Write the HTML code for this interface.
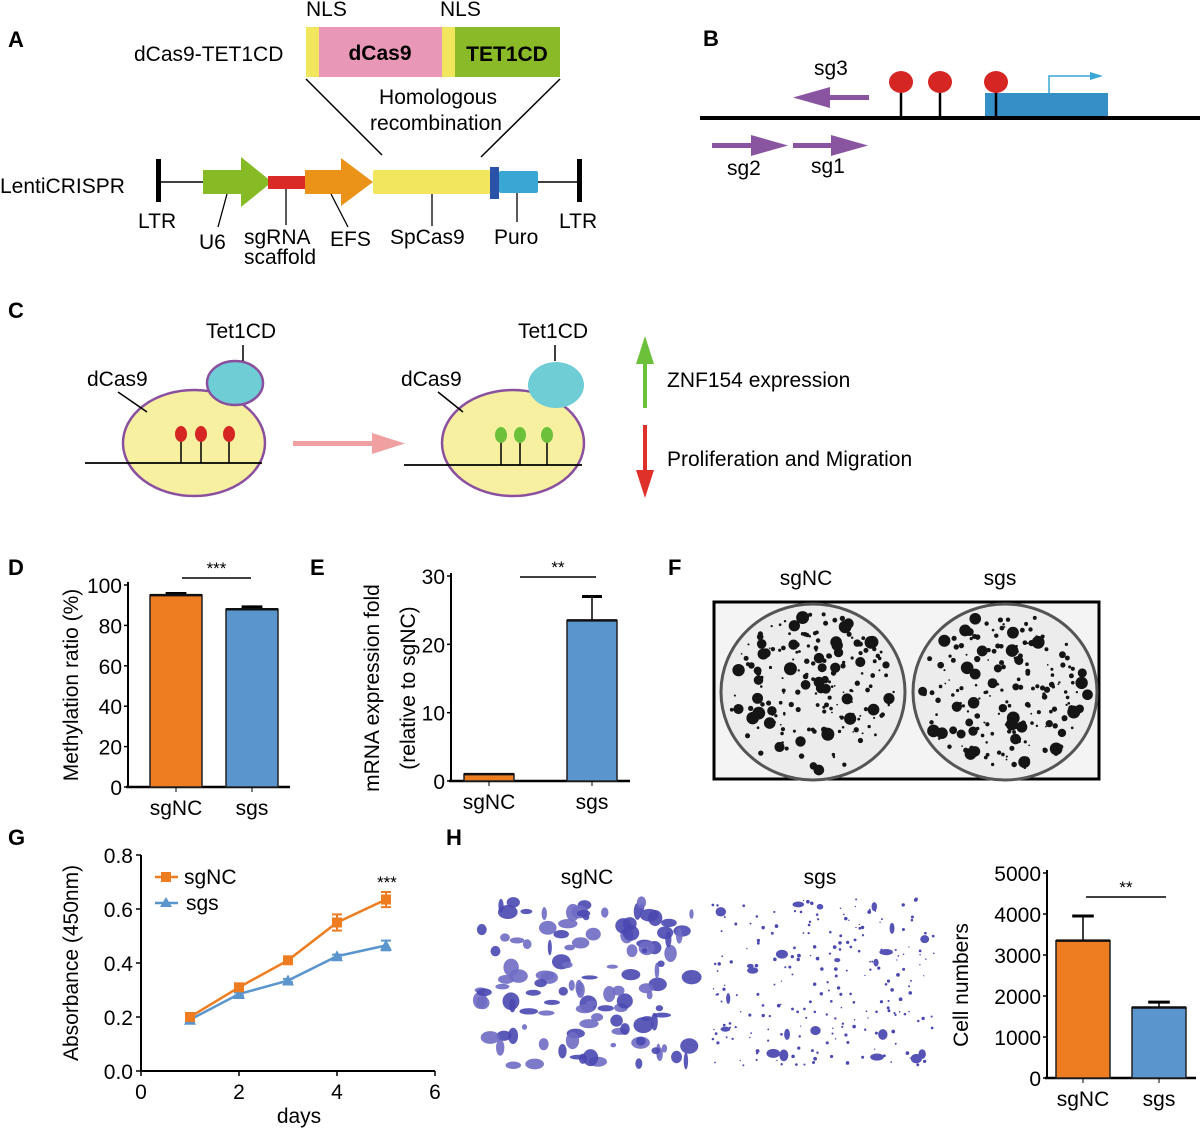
<!DOCTYPE html>
<html><head><meta charset="utf-8"><style>
html,body{margin:0;padding:0;background:#fff;}
svg{display:block;font-family:"Liberation Sans",Arial,sans-serif;}
</style></head><body>
<svg id="fig" width="1200" height="1128" viewBox="0 0 1200 1128" xmlns="http://www.w3.org/2000/svg">
<!-- Panel A -->
<g>
<text x="8" y="47" font-size="22" font-weight="bold">A</text>
<text x="134" y="61" font-size="21">dCas9-TET1CD</text>
<text x="306" y="16" font-size="21">NLS</text>
<text x="440" y="16" font-size="21">NLS</text>
<rect x="306" y="27" width="13" height="50" fill="#f2e65e"/>
<rect x="319" y="27" width="123" height="50" fill="#e898b6"/>
<rect x="442" y="27" width="13" height="50" fill="#f2e65e"/>
<rect x="455" y="27" width="105" height="50" fill="#8aba28"/>
<text x="380" y="60" font-size="21" font-weight="bold" text-anchor="middle">dCas9</text>
<text x="507" y="61" font-size="21" font-weight="bold" text-anchor="middle">TET1CD</text>
<line x1="306" y1="79" x2="382" y2="155" stroke="#000" stroke-width="1.5"/>
<line x1="560" y1="79" x2="481" y2="157" stroke="#000" stroke-width="1.5"/>
<text x="438" y="104" font-size="21" text-anchor="middle">Homologous</text>
<text x="436" y="130" font-size="21" text-anchor="middle">recombination</text>
<text x="0" y="193" font-size="21">LentiCRISPR</text>
<rect x="156" y="159" width="5" height="43" fill="#000"/>
<line x1="161" y1="182" x2="204" y2="182" stroke="#000" stroke-width="1.5"/>
<line x1="537" y1="182" x2="578" y2="182" stroke="#000" stroke-width="1.5"/>
<rect x="577" y="159" width="5" height="43" fill="#000"/>
<polygon points="203,170 241,170 241,157 272,182 241,207 241,194 203,194" fill="#86bb26"/>
<rect x="268" y="176" width="40" height="13" fill="#d92a26"/>
<polygon points="305,170 341,170 341,158 373,182 341,206 341,194 305,194" fill="#ea9318"/>
<rect x="373" y="170" width="118" height="24" fill="#f2e65e" rx="2"/>
<rect x="490" y="167" width="9" height="32" fill="#2a52a8"/>
<rect x="499" y="171" width="39" height="22" fill="#3aa6d4" rx="2"/>
<g stroke="#000" stroke-width="1.3">
<line x1="227" y1="194" x2="218" y2="227"/><line x1="286" y1="189" x2="286" y2="225"/>
<line x1="331" y1="194" x2="348" y2="227"/><line x1="432" y1="194" x2="432" y2="226"/><line x1="517" y1="193" x2="517" y2="222"/>
</g>
<g font-size="21">
<text x="138" y="228">LTR</text><text x="199" y="249">U6</text><text x="244" y="244">sgRNA</text><text x="244" y="264">scaffold</text>
<text x="330" y="246">EFS</text><text x="390" y="244">SpCas9</text><text x="494" y="244">Puro</text><text x="559" y="228">LTR</text>
</g>
</g>
<!-- Panel B -->
<g>
<text x="703" y="46" font-size="22" font-weight="bold">B</text>
<rect x="985" y="93" width="123" height="25" fill="#3690c8"/>
<rect x="700" y="116" width="500" height="4" fill="#000"/>
<g stroke="#000" stroke-width="2.5"><line x1="901" y1="82" x2="901" y2="117"/><line x1="940" y1="82" x2="940" y2="117"/><line x1="996" y1="82" x2="996" y2="117"/></g>
<g fill="#d62624"><ellipse cx="901" cy="82" rx="12" ry="11"/><ellipse cx="940" cy="82" rx="12" ry="11"/><ellipse cx="996" cy="82" rx="12" ry="11"/></g>
<polyline points="1049,93 1049,76 1090,76" fill="none" stroke="#3aa6d4" stroke-width="1.5"/>
<polygon points="1090,72 1103,76 1090,80" fill="#3aa6d4"/>
<g fill="#8a55a0">
<rect x="828" y="95" width="41" height="5"/><polygon points="793,97.5 830,87 830,108"/>
<rect x="712" y="143" width="40" height="5"/><polygon points="788,145.5 751,135 751,156"/>
<rect x="793" y="143" width="40" height="5"/><polygon points="868,145.5 831,135 831,156"/>
</g>
<g font-size="21"><text x="814" y="75">sg3</text><text x="727" y="175">sg2</text><text x="811" y="173">sg1</text></g>
</g>
<!-- Panel C -->
<g>
<text x="8" y="318" font-size="22" font-weight="bold">C</text>
<ellipse cx="194" cy="443" rx="71" ry="53" fill="#f6f0a0" stroke="#8a4f9e" stroke-width="2.5"/>
<ellipse cx="235" cy="383" rx="28" ry="22" fill="#6fcdd6" stroke="#8a4f9e" stroke-width="2.5"/>
<line x1="85" y1="463" x2="262" y2="463" stroke="#000" stroke-width="1.8"/>
<g stroke="#000" stroke-width="1.5"><line x1="181" y1="434" x2="181" y2="463"/><line x1="201" y1="434" x2="201" y2="463"/><line x1="229" y1="434" x2="229" y2="463"/><line x1="243" y1="345" x2="243" y2="361"/><line x1="118" y1="392" x2="147" y2="412"/></g>
<g fill="#d62624"><ellipse cx="181" cy="434" rx="6" ry="8"/><ellipse cx="201" cy="434" rx="6" ry="8"/><ellipse cx="229" cy="434" rx="6" ry="8"/></g>
<text x="206" y="338" font-size="21">Tet1CD</text><text x="87" y="386" font-size="21">dCas9</text>
<rect x="293" y="441" width="80" height="5" fill="#f0a0a0"/><polygon points="405,443.5 372,433 372,454" fill="#f0a0a0"/>
<ellipse cx="513" cy="443" rx="71" ry="53" fill="#f6f0a0" stroke="#8a4f9e" stroke-width="2.5"/>
<ellipse cx="556" cy="385" rx="28" ry="23" fill="#6fcdd6"/>
<line x1="404" y1="465" x2="582" y2="465" stroke="#000" stroke-width="1.8"/>
<g stroke="#000" stroke-width="1.5"><line x1="501" y1="435" x2="501" y2="465"/><line x1="520" y1="435" x2="520" y2="465"/><line x1="547" y1="435" x2="547" y2="465"/><line x1="555" y1="345" x2="555" y2="361"/><line x1="438" y1="392" x2="463" y2="412"/></g>
<g fill="#6cc13a"><ellipse cx="501" cy="435" rx="6" ry="8"/><ellipse cx="520" cy="435" rx="6" ry="8"/><ellipse cx="547" cy="435" rx="6" ry="8"/></g>
<text x="518" y="338" font-size="21">Tet1CD</text><text x="401" y="386" font-size="21">dCas9</text>
<rect x="643" y="362" width="4" height="46" fill="#6cc13a"/><polygon points="645,336 636,364 654,364" fill="#6cc13a"/>
<rect x="643" y="425" width="4" height="46" fill="#e0302a"/><polygon points="645,498 636,470 654,470" fill="#e0302a"/>
<text x="667" y="387" font-size="21">ZNF154 expression</text>
<text x="667" y="466" font-size="21">Proliferation and Migration</text>
</g>
<!-- Panel labels for charts -->
<text x="8" y="575" font-size="22" font-weight="bold">D</text>
<text x="310" y="575" font-size="22" font-weight="bold">E</text>
<text x="668" y="575" font-size="22" font-weight="bold">F</text>
<text x="8" y="845" font-size="22" font-weight="bold">G</text>
<text x="446" y="845" font-size="22" font-weight="bold">H</text>
<!-- Panel F -->
<g>
<text x="806" y="585" font-size="21" text-anchor="middle">sgNC</text>
<text x="1000" y="585" font-size="21" text-anchor="middle">sgs</text>
<rect x="714" y="602" width="385" height="177" fill="#f4f4f4" stroke="#000" stroke-width="3"/>
<ellipse cx="813" cy="692" rx="92" ry="88" fill="#ececec" stroke="#555" stroke-width="3"/>
<ellipse cx="1005" cy="692" rx="92" ry="88" fill="#ececec" stroke="#555" stroke-width="3"/>
<g id="colonies"></g>
</g>
<!-- Panel H images -->
<g>
<text x="587" y="884" font-size="21" text-anchor="middle">sgNC</text>
<text x="820" y="884" font-size="21" text-anchor="middle">sgs</text>
<g id="cells"></g>
</g>
<g id="charts"></g>
</svg>
<script>
// ===== Chart data =====
const dCategories = ["sgNC","sgs"];
const dValues = [95, 88];
const dErrors = [0.8, 1.2];
const dTicks = [0,20,40,60,80,100];

const eCategories = ["sgNC","sgs"];
const eValues = [1, 23.5];
const eErrors = [0, 3.5];
const eTicks = [0,10,20,30];

const gDays = [1,2,3,4,5];
const gSgNC = [0.20,0.31,0.41,0.55,0.635];
const gSgNCErr = [0.008,0.01,0.01,0.03,0.028];
const gSgs = [0.19,0.285,0.335,0.425,0.465];
const gSgsErr = [0.006,0.006,0.006,0.006,0.018];
const gXTicks = [0,2,4,6];
const gYTicks = [0.0,0.2,0.4,0.6,0.8];

const hCategories = ["sgNC","sgs"];
const hValues = [3350, 1720];
const hErrors = [600, 130];
const hTicks = [0,1000,2000,3000,4000,5000];

const ORANGE="#ee7d22", BLUE="#5b95cd";
const NS="http://www.w3.org/2000/svg";
const root=document.getElementById('charts');
function mk(tag,attrs,parent){const e=document.createElementNS(NS,tag);for(const k in attrs)e.setAttribute(k,attrs[k]);(parent||root).appendChild(e);return e;}
function txt(s,attrs,parent){const e=mk('text',attrs,parent);e.textContent=s;return e;}

function barChart(o){
  const g=mk('g',{});
  
  
  const y=v=>o.y0-(v-o.min)/(o.max-o.min)*(o.y0-o.y1);
  mk('line',{x1:o.ax,y1:o.y1-3,x2:o.ax,y2:o.y0,stroke:'#000','stroke-width':2},g);
  mk('line',{x1:o.ax-2,y1:o.y0,x2:o.axEnd,y2:o.y0,stroke:'#000','stroke-width':2.5},g);
  o.ticks.forEach(t=>{
    mk('line',{x1:o.ax-4,y1:y(t),x2:o.ax,y2:y(t),stroke:'#000','stroke-width':1.5},g);
    const l=txt(String(t),{x:o.ax-6,y:y(t)+8,'font-size':21,'text-anchor':'end'},g);
    
    
  });
  o.cats.forEach((c,i)=>{
    const cx=o.cx[i], v=o.vals[i], e=o.errs[i];
    if(e>0){
      mk('line',{x1:cx,y1:y(v),x2:cx,y2:y(v+e),stroke:'#000','stroke-width':1.5},g);
      mk('line',{x1:cx-o.bw*0.2,y1:y(v+e),x2:cx+o.bw*0.2,y2:y(v+e),stroke:'#000','stroke-width':3},g);
    }
    const b=mk('rect',{x:cx-o.bw/2,y:y(v),width:o.bw,height:o.y0-y(v),fill:i?BLUE:ORANGE,stroke:'#222','stroke-width':1.5},g);
    
    
    mk('line',{x1:cx-o.bw/2,y1:y(v),x2:cx+o.bw/2,y2:y(v),stroke:'#111','stroke-width':2.5},g);
    mk('line',{x1:cx,y1:o.y0,x2:cx,y2:o.y0+5,stroke:'#000','stroke-width':1},g);
    const l=txt(c,{x:cx,y:o.y0+28,'font-size':21,'text-anchor':'middle'},g);
    
    
  });
  mk('line',{x1:o.sig[0],y1:o.sig[2],x2:o.sig[1],y2:o.sig[2],stroke:'#000','stroke-width':1.5},g);
  txt(o.stars,{x:(o.sig[0]+o.sig[1])/2,y:o.sig[2]-4,'font-size':17,'text-anchor':'middle'},g);
  o.titles.forEach((t,k)=>{
    const tt=txt(t[0],{x:t[1],y:t[2],'font-size':21,'text-anchor':'middle',transform:`rotate(-90 ${t[1]} ${t[2]})`},g);
    
    
  });
}
barChart({name:'methylation-chart',ax:128,axEnd:290,y0:787,y1:585,min:0,max:100,ticks:dTicks,cats:dCategories,vals:dValues,errs:dErrors,cx:[176,252],bw:52,sig:[182,251,578],stars:'***',titles:[["Methylation ratio (%)",78,685]]});
barChart({name:'mrna-chart',ax:451,axEnd:630,y0:781,y1:576,min:0,max:30,ticks:eTicks,cats:eCategories,vals:eValues,errs:eErrors,cx:[489,592],bw:50,sig:[520,596,577],stars:'**',titles:[["mRNA expression fold",379,688],["(relative to sgNC)",415,688]]});
barChart({name:'cell-number-chart',ax:1047,axEnd:1196,y0:1078,y1:873,min:0,max:5000,ticks:hTicks,cats:hCategories,vals:hValues,errs:hErrors,cx:[1083,1159],bw:54,sig:[1086,1166,897],stars:'**',titles:[["Cell numbers",968,985]]});

// ===== Line chart G =====
(function(){
  const g=mk('g',{});
  
  
  const X0=141,X1=435,Y0=1071,Y1=855;
  const x=v=>X0+v/6*(X1-X0), y=v=>Y0-v/0.8*(Y0-Y1);
  mk('line',{x1:X0,y1:Y1,x2:X0,y2:Y0,stroke:'#000','stroke-width':2},g);
  mk('line',{x1:X0,y1:Y0,x2:X1,y2:Y0,stroke:'#000','stroke-width':2},g);
  gYTicks.forEach(t=>{
    mk('line',{x1:X0-5,y1:y(t),x2:X0,y2:y(t),stroke:'#000','stroke-width':1.5},g);
    const l=txt(t.toFixed(1),{x:X0-8,y:y(t)+8,'font-size':21,'text-anchor':'end'},g);
    
    
  });
  gXTicks.forEach(t=>{
    mk('line',{x1:x(t),y1:Y0,x2:x(t),y2:Y0+5,stroke:'#000','stroke-width':1.5},g);
    const l=txt(String(t),{x:x(t),y:Y0+28,'font-size':21,'text-anchor':'middle'},g);
    
    
  });
  const xt=txt('days',{x:299,y:1123,'font-size':21,'text-anchor':'middle'},g);
  
  
  const yt=txt('Absorbance (450nm)',{x:78,y:963,'font-size':21,'text-anchor':'middle',transform:'rotate(-90 78 963)'},g);
  
  
  function series(vals,errs,col,shape,name){
    const s=mk('g',{},g);
    
    
    mk('polyline',{points:gDays.map((d,i)=>x(d)+','+y(vals[i])).join(' '),fill:'none',stroke:col,'stroke-width':2.5},s);
    gDays.forEach((d,i)=>{
      const cx=x(d),cy=y(vals[i]);
      mk('line',{x1:cx,y1:y(vals[i]-errs[i]),x2:cx,y2:y(vals[i]+errs[i]),stroke:col,'stroke-width':2},s);
      mk('line',{x1:cx-5,y1:y(vals[i]+errs[i]),x2:cx+5,y2:y(vals[i]+errs[i]),stroke:col,'stroke-width':2},s);
      mk('line',{x1:cx-5,y1:y(vals[i]-errs[i]),x2:cx+5,y2:y(vals[i]-errs[i]),stroke:col,'stroke-width':2},s);
      if(shape==='sq') mk('rect',{x:cx-5,y:cy-5,width:10,height:10,fill:col},s);
      else mk('polygon',{points:`${cx},${cy-6} ${cx-6},${cy+5} ${cx+6},${cy+5}`,fill:col},s);
    });
  }
  series(gSgs,gSgsErr,BLUE,'tri','series-sgs');
  series(gSgNC,gSgNCErr,ORANGE,'sq','series-sgnc');
  const lg=mk('g',{},g);
  
  
  mk('line',{x1:155,y1:877,x2:178,y2:877,stroke:ORANGE,'stroke-width':2.5},lg);
  mk('rect',{x:161,y:872,width:10,height:10,fill:ORANGE},lg);
  txt('sgNC',{x:184,y:884,'font-size':21},lg);
  mk('line',{x1:155,y1:903,x2:178,y2:903,stroke:BLUE,'stroke-width':2.5},lg);
  mk('polygon',{points:'166,897 160,907 172,907',fill:BLUE},lg);
  txt('sgs',{x:186,y:910,'font-size':21},lg);
  txt('***',{x:387,y:888,'font-size':17,'text-anchor':'middle'},g);
})();

// ===== Decorative photo textures (deterministic) =====
let seed=7;function rnd(){seed=(seed*16807)%2147483647;return seed/2147483647;}
const col=document.getElementById('colonies');
[[813,692],[1005,692]].forEach(c=>{
  for(let i=0;i<200;i++){
    const a=rnd()*Math.PI*2,r=Math.sqrt(rnd())*84;
    const s=rnd(); const rr=s<0.75?0.8+rnd()*2:2.5+rnd()*4;
    mk('circle',{cx:c[0]+Math.cos(a)*r,cy:c[1]+Math.sin(a)*r*0.95,r:rr,fill:'#151515'},col);
  }
});
const cel=document.getElementById('cells');
mk('rect',{x:478,y:897,width:222,height:171,fill:'#fff'},cel);
for(let i=0;i<120;i++){
  mk('ellipse',{cx:480+rnd()*218,cy:899+rnd()*167,rx:2+rnd()*8,ry:2+rnd()*7,fill:rnd()<0.5?'#4a48b0':'#6f6cc4',opacity:0.9},cel);
}
for(let i=0;i<220;i++){
  mk('circle',{cx:712+rnd()*222,cy:899+rnd()*167,r:0.6+rnd()*1.3,fill:'#4a48b0'},cel);
}
for(let i=0;i<22;i++){
  mk('ellipse',{cx:715+rnd()*215,cy:902+rnd()*160,rx:2+rnd()*5,ry:2+rnd()*4,fill:'#5553b5'},cel);
}
</script>
</body></html>
